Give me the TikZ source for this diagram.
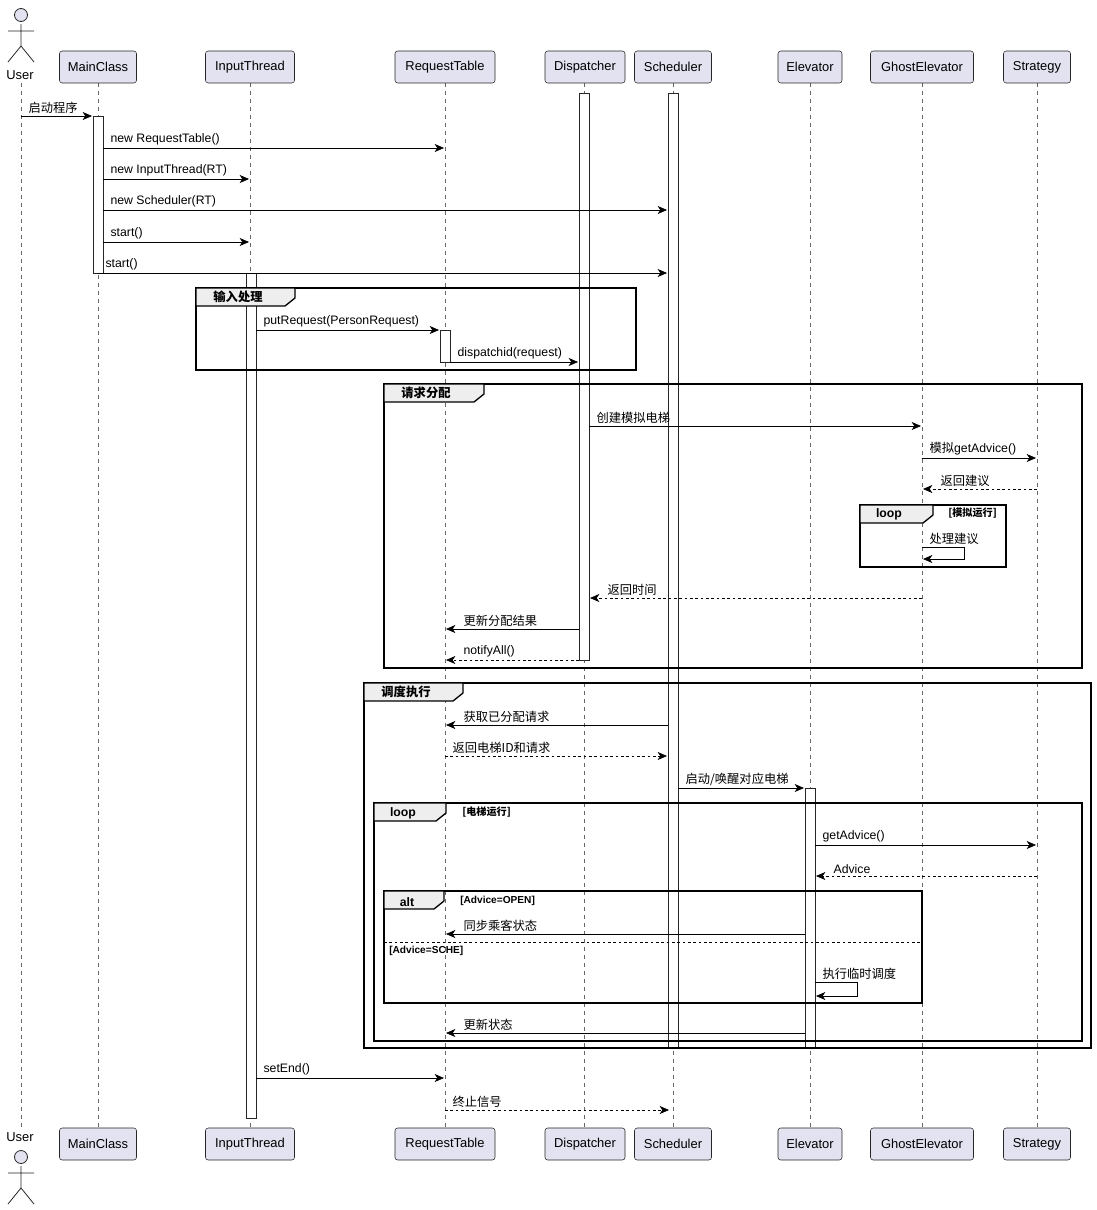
\documentclass[tikz,border=0pt]{standalone}
\usepackage{fontspec}
\setmainfont{Liberation Sans}
\newfontfamily\cjk{Noto Sans CJK SC}
\usetikzlibrary{arrows.meta}
\definecolor{pfill}{HTML}{E2E2F0}
\definecolor{gfill}{HTML}{EEEEEE}
\tikzset{
  part/.style={draw=black!85,fill=pfill,rounded corners=2pt,minimum height=24pt,inner sep=0pt,font=\fontsize{9.7}{11}\selectfont},
  life/.style={draw=black!60,dash pattern=on 3pt off 3pt,line width=0.5pt},
  act/.style={draw=black!85,fill=white,line width=0.5pt},
  m/.style={-{Stealth[length=7pt,width=6pt,inset=2pt]},line width=0.5pt},
  r/.style={m,dash pattern=on 2pt off 2pt},
  lbl/.style={anchor=south west,inner sep=1pt,font=\fontsize{9.2}{11}\selectfont},
  grp/.style={draw=black,line width=1pt},
  tab/.style={font=\bfseries\fontsize{9.2}{11}\selectfont},
  guard/.style={font=\bfseries\fontsize{7.6}{9}\selectfont,anchor=west,inner sep=0pt}
}
\newcommand{\msgR}[5][m]{\draw[#1] (#3,#2) -- (#4,#2); \node[lbl] at (#3+6,#2-1) {#5};}
\newcommand{\msgL}[5][m]{\draw[#1] (#3,#2) -- (#4,#2); \node[lbl] at (#4+16,#2-1) {#5};}
\newcommand{\grptab}[5]{% x1,y1,x2,y2,label,tabwidth implicit
  \draw[grp] (#1,#2) rectangle (#3,#4);}
\begin{document}
\begin{tikzpicture}[x=0.75pt,y=-0.75pt]
\useasboundingbox (0,0) rectangle (1096,1210);
% lifelines
\foreach \x in {98,250,445,584,673,810,922,1037} \draw[life] (\x,83) -- (\x,1128);
\draw[life] (21,83) -- (21,1128);
% participants
\foreach \n/\x/\w/\t in {mc/98/77/MainClass,it/250/89/InputThread,rt/445/100/RequestTable,di/585/80/Dispatcher,sc/673/77/Scheduler,el/810/64/Elevator,ge/922/103/GhostElevator,st/1037/67/Strategy}{
  \node[part,minimum width=\w*0.75pt] (\n top) at (\x,67) {\t};
  \node[part,minimum width=\w*0.75pt] (\n bot) at (\x,1144) {\t};
}
% actors
\foreach \y/\ly in {6/75,1148/1137}{
  \draw[black!85,fill=pfill,line width=0.6pt] (21,\y+9) circle (6.5);
  \draw[black!85,line width=0.6pt] (21,\y+18) -- (21,\y+40) (8,\y+25) -- (34,\y+25) (21,\y+40) -- (8,\y+56) (21,\y+40) -- (34,\y+56);
  \node[font=\fontsize{9.7}{11}\selectfont] (user\y) at (20,\ly) {User};
}
% activations
\draw[act] (93,116) rectangle (103,273);
\draw[act] (579,93) rectangle (589,660);
\draw[act] (668,93) rectangle (678,1048);
\draw[act] (246,273) rectangle (256,1118);
\draw[act] (440,330) rectangle (450,362);
\draw[act] (805,788) rectangle (815,1048);
% messages
\msgR{116}{21}{92}{\cjk 启动程序}
\msgR{148}{103}{444}{new RequestTable()}
\msgR{179}{103}{249}{new InputThread(RT)}
\msgR{210}{103}{667}{new Scheduler(RT)}
\msgR{242}{103}{249}{start()}
\msgR{273}{98}{667}{start()}
% group 输入处理
\draw[grp] (196,288) rectangle (636,370);
\draw[grp,fill=gfill] (196,288) -- (295,288) -- (295,298) -- (285,306) -- (196,306) -- cycle;
\node[tab] at (238,297) {\cjk 输入处理};
\msgR{330}{256}{439}{putRequest(PersonRequest)}
\msgR{362}{450}{578}{dispatchid(request)}
% group 请求分配
\draw[grp] (384,384) rectangle (1082,668);
\draw[grp,fill=gfill] (384,384) -- (484,384) -- (484,394) -- (474,402) -- (384,402) -- cycle;
\node[tab] at (426,393) {\cjk 请求分配};
\msgR{426}{589}{921}{\cjk 创建模拟电梯}
\msgR{458}{922}{1036}{{\cjk 模拟}getAdvice()}
\msgL[r]{489}{1037}{923}{\cjk 返回建议}
\draw[grp] (860,505) rectangle (1006,567);
\draw[grp,fill=gfill] (860,505) -- (933,505) -- (933,515) -- (923,523) -- (860,523) -- cycle;
\node[tab] at (889,514) {loop};
\node[guard] at (948,513) {\cjk [模拟运行]};
\draw[m] (922,547) -- (964,547) -- (964,559) -- (923,559);
\node[lbl] at (928,546) {\cjk 处理建议};
\msgL[r]{598}{922}{590}{\cjk 返回时间}
\msgL{629}{579}{446}{\cjk 更新分配结果}
\msgL[r]{660}{579}{446}{notifyAll()}
% group 调度执行
\draw[grp] (364,683) rectangle (1091,1048);
\draw[grp,fill=gfill] (364,683) -- (463,683) -- (463,693) -- (453,701) -- (364,701) -- cycle;
\node[tab] at (406,692) {\cjk 调度执行};
\msgL{725}{668}{446}{\cjk 获取已分配请求}
\msgR[r]{756}{445}{667}{\cjk 返回电梯ID和请求}
\msgR{788}{678}{804}{\cjk 启动/唤醒对应电梯}
% loop
\draw[grp] (374,803) rectangle (1082,1041);
\draw[grp,fill=gfill] (374,803) -- (446,803) -- (446,813) -- (436,821) -- (374,821) -- cycle;
\node[tab] at (403,813) {loop};
\node[guard] at (462,812) {\cjk [电梯运行]};
\msgR{845}{815}{1036}{getAdvice()}
\msgL[r]{876}{1037}{816}{Advice}
% alt
\draw[grp] (384,891) rectangle (922,1003);
\draw[grp,fill=gfill] (384,891) -- (444,891) -- (444,901) -- (434,909) -- (384,909) -- cycle;
\node[tab] at (407,902) {alt};
\node[guard] at (460,901) {[Advice=OPEN]};
\draw[black,line width=0.5pt,dash pattern=on 2pt off 2pt] (384,942) -- (922,942);
\node[guard] at (389,951) {[Advice=SCHE]};
\msgL{934}{805}{446}{\cjk 同步乘客状态}
\draw[m] (815,982) -- (857,982) -- (857,996) -- (816,996);
\node[lbl] at (821,981) {\cjk 执行临时调度};
\msgL{1033}{805}{446}{\cjk 更新状态}
\msgR{1078}{256}{444}{setEnd()}
\msgR[r]{1110}{445}{669}{\cjk 终止信号}
\end{tikzpicture}
\end{document}
